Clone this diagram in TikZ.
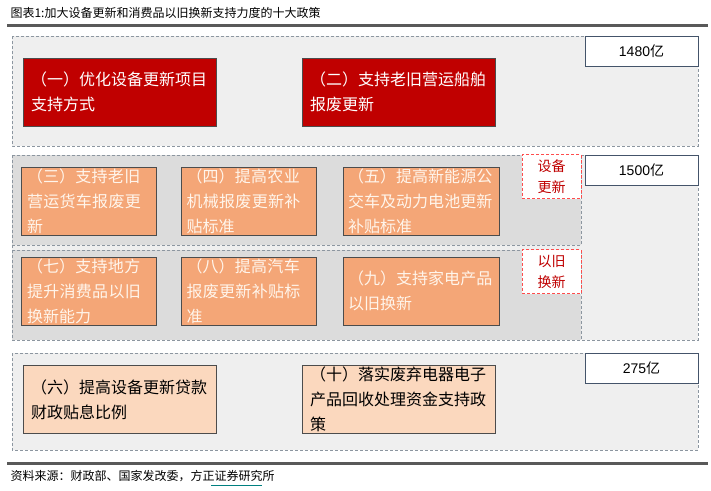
\documentclass[tikz,border=0pt]{standalone}
\usepackage{fontspec}
\setmainfont{Noto Sans CJK SC}
\setsansfont{Liberation Sans}
\newfontfamily\cjk{Noto Sans CJK SC}
\XeTeXlinebreaklocale "zh"
\XeTeXlinebreakskip=0pt plus 1pt
\usetikzlibrary{positioning}
\definecolor{darkred}{HTML}{C00000}
\definecolor{orangefill}{HTML}{F4A677}
\definecolor{peachfill}{HTML}{FBD8BE}
\definecolor{groupgrey}{HTML}{EFEFEF}
\definecolor{innergrey}{HTML}{DCDCDC}
\definecolor{edgegrey}{HTML}{8C96A0}
\definecolor{numedge}{HTML}{44546A}
\tikzset{
  policy/.style={draw=black!70, line width=0.8pt, minimum width=193, minimum height=68,
    text width=177, align=left, inner sep=0pt, font=\fontsize{16}{25}\selectfont},
  redpolicy/.style={policy, fill=darkred, text=white},
  orangepolicy/.style={policy, fill=orangefill, text=white!92!orange,
    minimum width=135, text width=124},
  peachpolicy/.style={policy, fill=peachfill, text=black},
  numbox/.style={draw=numedge, fill=white, line width=0.8pt, minimum width=113, minimum height=30,
    font=\sffamily\fontsize{14}{14}\selectfont},
  tagbox/.style={draw=red!70, densely dashed, fill=white, minimum width=59, minimum height=44,
    text=red!75!black, align=center, inner sep=0pt, font=\fontsize{14}{21}\selectfont},
  group/.style={draw=edgegrey, densely dashed, fill=groupgrey, line width=0.7pt},
  subgroup/.style={draw=edgegrey, densely dashed, fill=innergrey, line width=0.7pt}
}
\begin{document}
\begin{tikzpicture}[x=1pt, y=-1pt]
\useasboundingbox (0,0) rectangle (711,490);
\node[anchor=west, font=\fontsize{12}{12}\selectfont] (title) at (7,13) {图表1:加大设备更新和消费品以旧换新支持力度的十大政策};
\draw[line width=3pt, black!65] (7,25) -- (708,25);
% first group
\draw[group] (12,36) rectangle (698,146);
\node[numbox] (n1) at (641.5,51.5) {1480{\cjk 亿}};
\node[redpolicy] (p1) at (119.5,92) {（一）优化设备更新项目支持方式};
\node[redpolicy] (p2) at (398.5,92) {（二）支持老旧营运船舶报废更新};
% second group
\draw[group] (12,155) rectangle (698,340);
\draw[subgroup] (12,155) rectangle (581,245);
\draw[subgroup] (12,250) rectangle (581,340);
\node[numbox] (n2) at (641.5,170.5) {1500{\cjk 亿}};
\node[tagbox] (t1) at (551.5,176.5) {设备\\更新};
\node[tagbox] (t2) at (551.5,271.5) {以旧\\换新};
\node[orangepolicy] (p3) at (89,201.5) {（三）支持老旧营运货车报废更新};
\node[orangepolicy] (p4) at (248.5,201.5) {（四）提高农业机械报废更新补贴标准};
\node[orangepolicy, minimum width=156, text width=146] (p5) at (421,201.5) {（五）提高新能源公交车及动力电池更新补贴标准};
\node[orangepolicy] (p7) at (89,291) {（七）支持地方提升消费品以旧换新能力};
\node[orangepolicy] (p8) at (248.5,291) {（八）提高汽车报废更新补贴标准};
\node[orangepolicy, minimum width=156, text width=146] (p9) at (421,291) {（九）支持家电产品以旧换新};
% third group
\draw[group] (12,353) rectangle (698,450);
\node[numbox] (n3) at (641.5,368) {275{\cjk 亿}};
\node[peachpolicy] (p6) at (119.5,399.5) {（六）提高设备更新贷款财政贴息比例};
\node[peachpolicy] (p10) at (398.5,399.5) {（十）落实废弃电器电子产品回收处理资金支持政策};
\draw[line width=3pt, black!65] (7,463) -- (708,463);
\node[anchor=west, font=\fontsize{12}{12}\selectfont\itshape] (source) at (7,476) {资料来源：财政部、国家发改委，方正证券研究所};
\draw[teal, line width=0.8pt] (211,485) -- (262,485);
\end{tikzpicture}
\end{document}
